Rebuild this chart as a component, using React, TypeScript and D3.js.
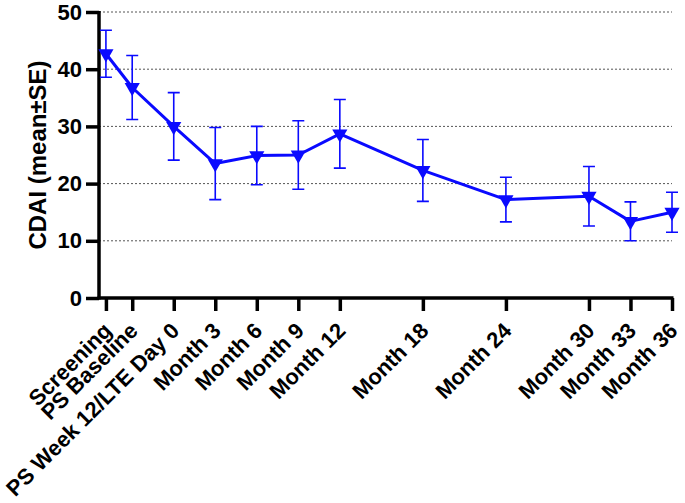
import * as d3 from "d3";
import React, { useRef, useEffect } from "react";

// Visit positions in months relative to LTE Day 0
const visits = [
  "Screening",
  "PS Baseline",
  "PS Week 12/LTE Day 0",
  "Month 3",
  "Month 6",
  "Month 9",
  "Month 12",
  "Month 18",
  "Month 24",
  "Month 30",
  "Month 33",
  "Month 36",
];
const months = [-4.9, -3, 0, 3, 6, 9, 12, 18, 24, 30, 33, 36];
const cdaiMean = [42.7, 36.8, 30.0, 23.5, 24.9, 25.0, 28.7, 22.3, 17.2, 17.8, 13.4, 15.0];
const cdaiSE = [4.1, 5.6, 5.9, 6.3, 5.1, 6.0, 6.0, 5.4, 3.9, 5.2, 3.4, 3.5];
const yTicks = [0, 10, 20, 30, 40, 50];

const App = () => {
  const ref = useRef<HTMLDivElement>(null);

  useEffect(() => {
    const width = 685;
    const height = 503;
    const left = 99;
    const right = 672;
    const top = 12;
    const bottom = 298;
    const blue = "#0a0aff";
    const font = "'Liberation Sans', Arial, sans-serif";

    const x = d3.scaleLinear().domain([-5.4, 36]).range([left, right]);
    const y = d3.scaleLinear().domain([0, 50]).range([bottom, top]);

    const data = visits.map((v, i) => ({
      visit: v,
      m: months[i],
      mean: cdaiMean[i],
      se: cdaiSE[i],
    }));

    const svg = d3
      .create("svg")
      .attr("width", width)
      .attr("height", height)
      .attr("viewBox", `0 0 ${width} ${height}`)
      .style("position", "absolute")
      .style("left", "0px")
      .style("top", "0px")
      .style("background", "#fff");

    // dotted horizontal grid
    svg
      .append("g")
      .selectAll("line")
      .data(yTicks.filter((t) => t > 0))
      .join("line")
      .attr("x1", left)
      .attr("x2", right)
      .attr("y1", (d) => y(d))
      .attr("y2", (d) => y(d))
      .attr("stroke", "#555")
      .attr("stroke-width", 1)
      .attr("stroke-dasharray", "2,2");

    // y axis
    svg
      .append("g")
      .attr("transform", `translate(${left},0)`)
      .call(d3.axisLeft(y).tickValues(yTicks).tickSize(13).tickPadding(4))
      .call((g) => g.select(".domain").attr("stroke-width", 3.5).attr("d", `M0,${bottom + 1.5}V${top - 1}`))
      .call((g) => g.selectAll(".tick line").attr("stroke-width", 3.5))
      .call((g) =>
        g
          .selectAll(".tick text")
          .attr("font-family", font)
          .attr("font-weight", "bold")
          .attr("font-size", 22)
          .attr("fill", "#000")
      );

    // x axis
    svg
      .append("g")
      .attr("transform", `translate(0,${bottom})`)
      .call(d3.axisBottom(x).tickValues(months).tickSize(13).tickFormat(() => ""))
      .call((g) => g.select(".domain").attr("stroke-width", 3.5).attr("d", `M${left - 1.5},0H${right + 1.5}`))
      .call((g) => g.selectAll(".tick line").attr("stroke-width", 3.5));

    // rotated visit labels
    svg
      .append("g")
      .selectAll("text")
      .data(data)
      .join("text")
      .attr("transform", (d) => `translate(${x(d.m) + 7},${bottom + 34}) rotate(-45)`)
      .attr("text-anchor", "end")
      .attr("font-family", font)
      .attr("font-weight", "bold")
      .attr("font-size", 22)
      .attr("fill", "#000")
      .text((d) => d.visit);

    // y title
    svg
      .append("text")
      .attr("transform", `translate(46,${(top + bottom) / 2}) rotate(-90)`)
      .attr("text-anchor", "middle")
      .attr("font-family", font)
      .attr("font-weight", "bold")
      .attr("font-size", 24)
      .attr("fill", "#000")
      .text("CDAI (mean\u00b1SE)");

    // error bars
    const eb = svg.append("g").attr("stroke", blue).attr("stroke-width", 1.6).attr("fill", "none");
    eb.selectAll("path")
      .data(data)
      .join("path")
      .attr("d", (d) => {
        const cx = x(d.m);
        const hi = y(d.mean + d.se);
        const lo = y(d.mean - d.se);
        return `M${cx - 6},${hi}H${cx + 6}M${cx},${hi}V${lo}M${cx - 6},${lo}H${cx + 6}`;
      });

    // mean line
    svg
      .append("path")
      .datum(data)
      .attr("fill", "none")
      .attr("stroke", blue)
      .attr("stroke-width", 3)
      .attr("stroke-linejoin", "round")
      .attr("d", d3.line<any>().x((d) => x(d.m)).y((d) => y(d.mean)));

    // down-triangle markers
    const tri = d3.symbol().type(d3.symbolTriangle).size(100);
    svg
      .append("g")
      .selectAll("path")
      .data(data)
      .join("path")
      .attr("transform", (d) => `translate(${x(d.m)},${y(d.mean)}) rotate(180)`)
      .attr("d", tri() as string)
      .attr("fill", blue);

    if (ref.current) {
      ref.current.innerHTML = "";
      ref.current.appendChild(svg.node() as SVGSVGElement);
    }
  }, []);

  return <div ref={ref}></div>;
};

export default App;
